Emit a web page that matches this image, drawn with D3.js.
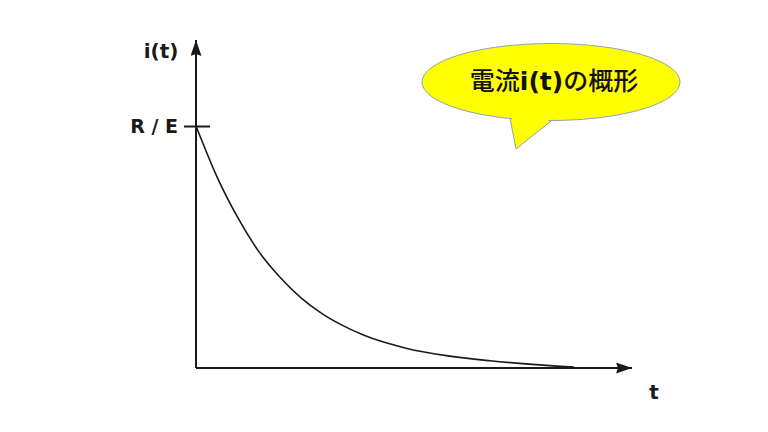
<!DOCTYPE html>
<html><head><meta charset="utf-8">
<script src="https://cdn.jsdelivr.net/npm/d3@7"></script>
<style>html,body{margin:0;padding:0;background:#fff;}</style>
</head><body>
<svg id="c" width="768" height="432"></svg>
<script>
// values (t in time-constant units, i as fraction of R/E)
const tValues = [0, 0.25, 0.5, 0.75, 1, 1.25, 1.5, 1.75, 2, 2.5, 3, 3.5, 4, 4.5];
const iValues = [1, 0.79, 0.62, 0.48, 0.375, 0.29, 0.225, 0.175, 0.135, 0.082, 0.05, 0.03, 0.015, 0.004];
const yTickLabels = ["R / E"];
const yTickValues = [1];
const axisLabels = ["i(t)", "t"];
const calloutText = ["電流", "i(t)", "の概形"];

const svg = d3.select("#c");
const x0 = 196, y0 = 368;
const x = d3.scaleLinear().domain([0, 5.19]).range([x0, 632]);
const y = d3.scaleLinear().domain([0, 1]).range([y0, 126]);
const ink = "#1a1a1a";
const font = "'DejaVu Sans', Verdana, sans-serif";

const defs = svg.append("defs");
defs.append("marker").attr("id","arr").attr("viewBox","0 0 16 11")
  .attr("refX",16).attr("refY",5.5).attr("markerWidth",16).attr("markerHeight",11)
  .attr("markerUnits","userSpaceOnUse").attr("orient","auto")
  .append("path").attr("d","M0,0 L16,5.5 L0,11 L2,5.5 Z").attr("fill",ink);

// axes
svg.append("line").attr("x1",x0).attr("y1",y0).attr("x2",x0).attr("y2",40)
  .attr("stroke",ink).attr("stroke-width",2).attr("marker-end","url(#arr)");
svg.append("line").attr("x1",x0).attr("y1",y0).attr("x2",x(5.19)).attr("y2",y0)
  .attr("stroke",ink).attr("stroke-width",2).attr("marker-end","url(#arr)");

// y tick via d3 axis
const yAxis = d3.axisLeft(y).tickValues(yTickValues).tickFormat((d,i)=>yTickLabels[i])
  .tickSizeInner(0).tickSizeOuter(0).tickPadding(0);
const gy = svg.append("g").attr("transform",`translate(${x0},0)`).call(yAxis);
gy.select(".domain").remove();
gy.selectAll(".tick line").remove();
gy.selectAll(".tick").append("line").attr("x1",-12).attr("x2",14)
  .attr("stroke",ink).attr("stroke-width",2);
gy.selectAll(".tick text").attr("x",-18).attr("dy","0.36em")
  .attr("font-family",font).attr("font-weight","bold").attr("font-size",19).attr("fill",ink);

// axis labels
svg.append("text").attr("x",161).attr("y",58).attr("text-anchor","middle")
  .attr("font-family",font).attr("font-weight","bold").attr("font-size",20).attr("fill",ink).text(axisLabels[0]);
svg.append("text").attr("x",654).attr("y",399).attr("text-anchor","middle")
  .attr("font-family",font).attr("font-weight","bold").attr("font-size",20).attr("fill",ink).text(axisLabels[1]);

// curve
const pts = tValues.map((t,i)=>[t, iValues[i]]);
svg.append("path").datum(pts)
  .attr("d", d3.line().x(d=>x(d[0])).y(d=>y(d[1])).curve(d3.curveMonotoneX))
  .attr("fill","none").attr("stroke",ink).attr("stroke-width",1.6);

// callout bubble
const cx = 551, cy = 82, rx = 129, ry = 38.5;
const bubble = svg.append("g");
bubble.append("path")
  .attr("d", `M510,118 L516,149 L553,119.5 Z`)
  .attr("fill","#ffff00").attr("stroke","#8fa3b3").attr("stroke-width",1);
bubble.append("ellipse").attr("cx",cx).attr("cy",cy).attr("rx",rx).attr("ry",ry)
  .attr("fill","#ffff00").attr("stroke","#8fa3b3").attr("stroke-width",1);
bubble.append("path").attr("d","M511.5,117 L516.5,146 L551,118.5 Z").attr("fill","#ffff00");

const t = bubble.append("text").attr("x",554).attr("y",90).attr("text-anchor","middle")
  .attr("font-size",25).attr("fill","#111");
t.append("tspan").attr("font-family","'Noto Sans CJK JP', sans-serif").attr("font-weight",500).text(calloutText[0]);
t.append("tspan").attr("font-family",font).attr("font-weight","bold").attr("font-size",25).text(calloutText[1]);
t.append("tspan").attr("font-family","'Noto Sans CJK JP', sans-serif").attr("font-weight",500).text(calloutText[2]);
</script>
</body></html>
